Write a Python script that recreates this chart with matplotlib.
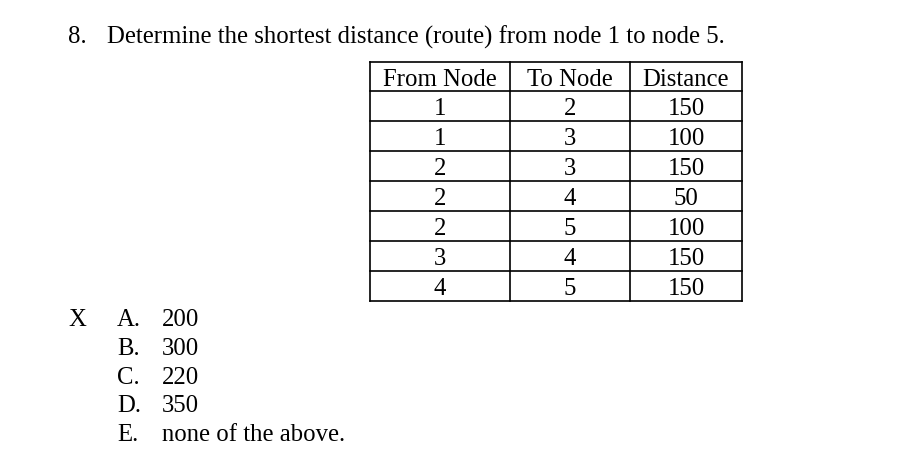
import matplotlib
matplotlib.use("Agg")
import matplotlib.pyplot as plt

# table data
from_node = [1, 1, 2, 2, 2, 3, 4]
to_node = [2, 3, 3, 4, 5, 4, 5]
distance = [150, 100, 150, 50, 100, 150, 150]
headers = ["From Node", "To Node", "Distance"]

question = "Determine the shortest distance (route) from node 1 to node 5."
choice_letters = ["A.", "B.", "C.", "D.", "E."]
choice_texts = ["200", "300", "220", "350", "none of the above."]

W, H = 921, 452
fig = plt.figure(figsize=(W / 100, H / 100), dpi=100)
ax = fig.add_axes([0, 0, 1, 1])
ax.set_xlim(0, W)
ax.set_ylim(H, 0)
ax.axis("off")

font = dict(family="Liberation Serif", fontsize=17.8, color="black")

ax.text(68, 37, "8.", va="center", ha="left", **font)
ax.text(107, 37, question, va="center", ha="left", **font)

# table grid
col_x = [370, 510, 630, 742]
row_y = [63, 92] + [92 + 30 * (i + 1) for i in range(len(from_node))]
for x in col_x:
    ax.plot([x, x], [row_y[0], row_y[-1]], color="black", lw=1.2)
for y in row_y:
    ax.plot([col_x[0], col_x[-1]], [y, y], color="black", lw=1.2)

centers = [(col_x[i] + col_x[i + 1]) / 2 for i in range(3)]
for c, h in zip(centers, headers):
    ax.text(c, (row_y[0] + row_y[1]) / 2 + 2, h, ha="center", va="center", **font)
for i, row in enumerate(zip(from_node, to_node, distance)):
    yc = (row_y[i + 1] + row_y[i + 2]) / 2 + 2
    for c, v in zip(centers, row):
        ax.text(c, yc, str(v), ha="center", va="center", **font)

# answer choices
ax.text(68, 320, "X", ha="left", va="center", **font)
for i, (l, t) in enumerate(zip(choice_letters, choice_texts)):
    y = 320 + i * 28.8
    ax.text(117, y, l, ha="left", va="center", **font)
    ax.text(162, y, t, ha="left", va="center", **font)

fig.savefig("out.png", dpi=100, facecolor="white")
